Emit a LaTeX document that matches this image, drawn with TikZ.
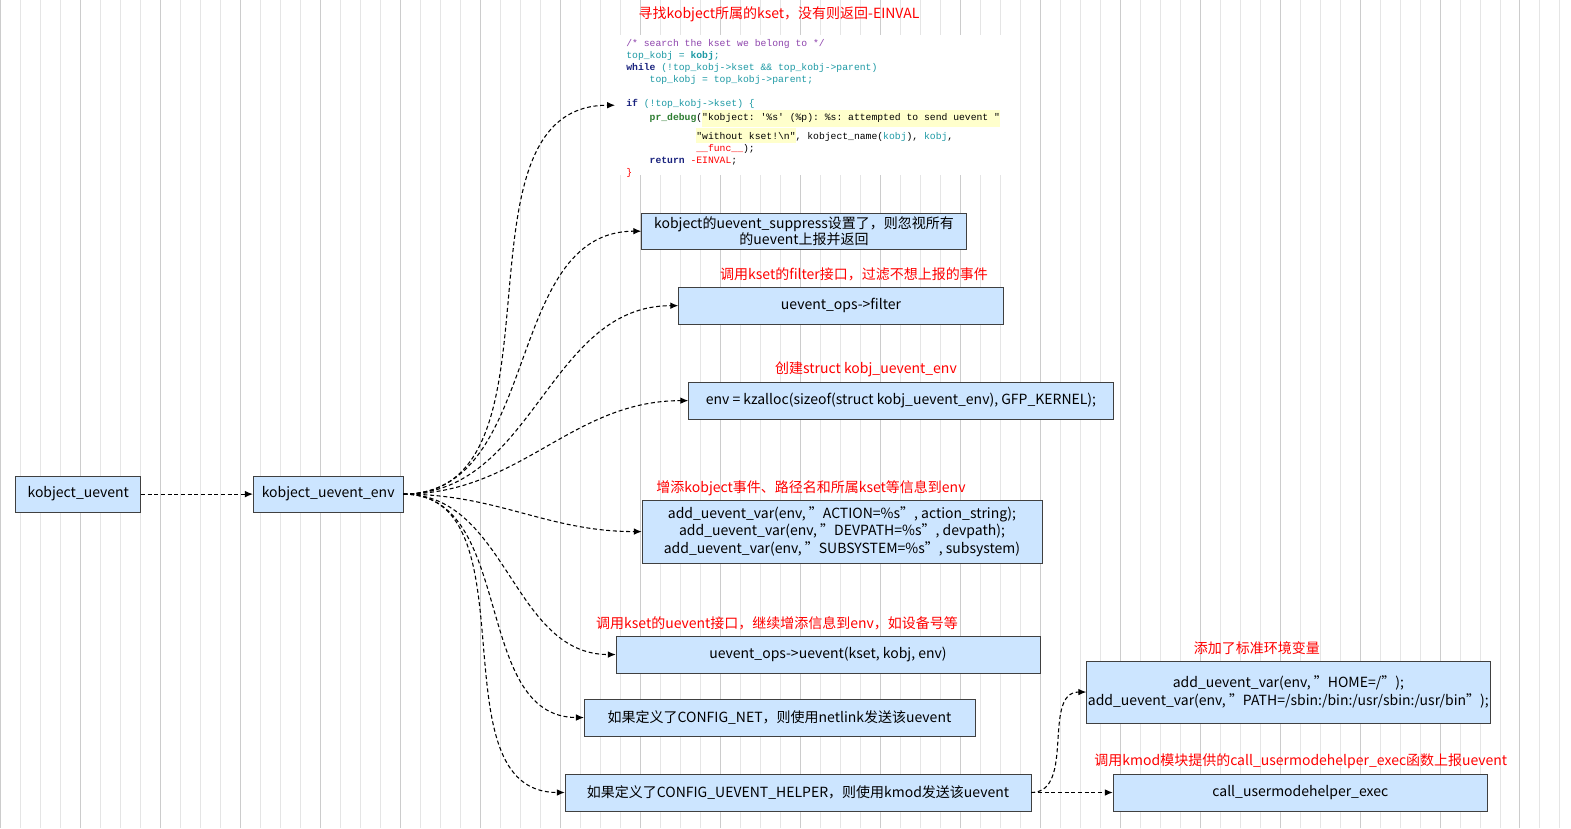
\documentclass[tikz,border=0pt]{standalone}
\usepackage{fontspec}
\setmainfont{Noto Sans CJK SC}
\setmonofont{Liberation Mono}
\usetikzlibrary{arrows.meta}
\definecolor{bx}{HTML}{CCE5FF}
\definecolor{cm}{HTML}{8E44AD}
\definecolor{tl}{HTML}{1E9AA5}
\definecolor{kw}{HTML}{1A237E}
\definecolor{fn}{HTML}{2E7D32}
\definecolor{hl}{HTML}{FFFFCC}
\begin{document}
\begin{tikzpicture}[x=0.75pt,y=-0.75pt,
  box/.style={draw=black!75,fill=bx,minimum height=27.5pt,font=\fontsize{10.5}{12.5}\selectfont,align=center,inner sep=1pt},
  lab/.style={text=red,font=\fontsize{10.5}{12.5}\selectfont},
  con/.style={densely dashed,-{Latex[length=6pt,width=5pt]},thick}]
\fill[white] (0,0) rectangle (1571,828);
\draw[black!10,step=20] (0,0) grid (1571,828);
\draw[black!20,step=80] (0,0) grid (1571,828);
\node[box,minimum width=93.75pt] (a) at (78,494) {kobject\_uevent};
\node[box,minimum width=112.5pt] (b) at (328,494) {kobject\_uevent\_env};
\fill[white] (615,35) rectangle (1005,175);
\node[anchor=north west,inner sep=0,align=left,font=\ttfamily\fontsize{7.3}{9}\selectfont] (code) at (626,39) {%
\textcolor{cm}{/* search the kset we belong to */}\\
\textcolor{tl}{top\_kobj = \textbf{kobj};}\\
\textcolor{kw}{\textbf{while}} \textcolor{tl}{(!top\_kobj->kset \&\& top\_kobj->parent)}\\
\textcolor{tl}{\ \ \ \ top\_kobj = top\_kobj->parent;}\\
\mbox{}\\
\textcolor{kw}{\textbf{if}} \textcolor{tl}{(!top\_kobj->kset) \{}\\
\ \ \ \ \textcolor{fn}{\textbf{pr\_debug}}(\colorbox{hl}{\rule{0pt}{5pt}\hspace{-3pt}"kobject: '\%s' (\%p): \%s: attempted to send uevent "\hspace{-3pt}}\\
\ \ \ \ \ \ \ \ \ \ \ \ \colorbox{hl}{\rule{0pt}{5pt}\hspace{-3pt}"without kset!\textbackslash n"\hspace{-3pt}}, kobject\_name(\textcolor{tl}{kobj}), \textcolor{tl}{kobj},\\
\ \ \ \ \ \ \ \ \ \ \ \ \textcolor{red}{\_\_func\_\_});\\
\ \ \ \ \textcolor{kw}{\textbf{return}} \textcolor{red}{-EINVAL};\\
\textcolor{red}{\}}};
\coordinate (codein) at (615,105);
\node[box,minimum width=243.75pt,font=\fontsize{10.5}{11.5}\selectfont] (c1) at (804,231) {kobject的uevent\_suppress设置了，则忽视所有\\的uevent上报并返回};
\node[box,minimum width=243.75pt] (c2) at (841,305.5) {uevent\_ops->filter};
\node[box,minimum width=318.75pt] (c3) at (901,400.5) {env = kzalloc(sizeof(struct kobj\_uevent\_env), GFP\_KERNEL);};
\node[box,minimum width=300pt,minimum height=47pt,font=\fontsize{10.5}{13}\selectfont] (c4) at (842,531.5) {add\_uevent\_var(env, "ACTION=\%s", action\_string);\\add\_uevent\_var(env, "DEVPATH=\%s", devpath);\\add\_uevent\_var(env, "SUBSYSTEM=\%s", subsystem)};
\node[box,minimum width=318pt] (c5) at (828,654.5) {uevent\_ops->uevent(kset, kobj, env)};
\node[box,minimum width=293pt] (c6) at (779.5,717.5) {如果定义了CONFIG\_NET，则使用netlink发送该uevent};
\node[box,minimum width=349.5pt] (c7) at (798,792.5) {如果定义了CONFIG\_UEVENT\_HELPER，则使用kmod发送该uevent};
\node[box,minimum width=299pt,minimum height=46.5pt,font=\fontsize{10.5}{13}\selectfont] (d1) at (1288.5,692) {add\_uevent\_var(env, "HOME=/");\\add\_uevent\_var(env, "PATH=/sbin:/bin:/usr/sbin:/usr/bin");};
\node[box,minimum width=281pt] (d2) at (1300.5,792.5) {call\_usermodehelper\_exec};
\node[lab] at (779,14) {寻找kobject所属的kset，没有则返回-EINVAL};
\node[lab] at (854,274) {调用kset的filter接口，过滤不想上报的事件};
\node[lab] at (866,369) {创建struct kobj\_uevent\_env};
\node[lab] at (811,488) {增添kobject事件、路径名和所属kset等信息到env};
\node[lab] at (777,623) {调用kset的uevent接口，继续增添信息到env，如设备号等};
\node[lab] at (1257,648) {添加了标准环境变量};
\node[lab] at (1301,761) {调用kmod模块提供的call\_usermodehelper\_exec函数上报uevent};
\draw[con] (a) -- (b);
\foreach \t in {codein,c1.west,c2.west,c3.west,c4.west,c5.west,c6.west,c7.west}
  \draw[con] (b.east) to[out=0,in=180] (\t);
\draw[con] (c7.east) to[out=0,in=180] (d1.west);
\draw[con] (c7) -- (d2);
\end{tikzpicture}
\end{document}
